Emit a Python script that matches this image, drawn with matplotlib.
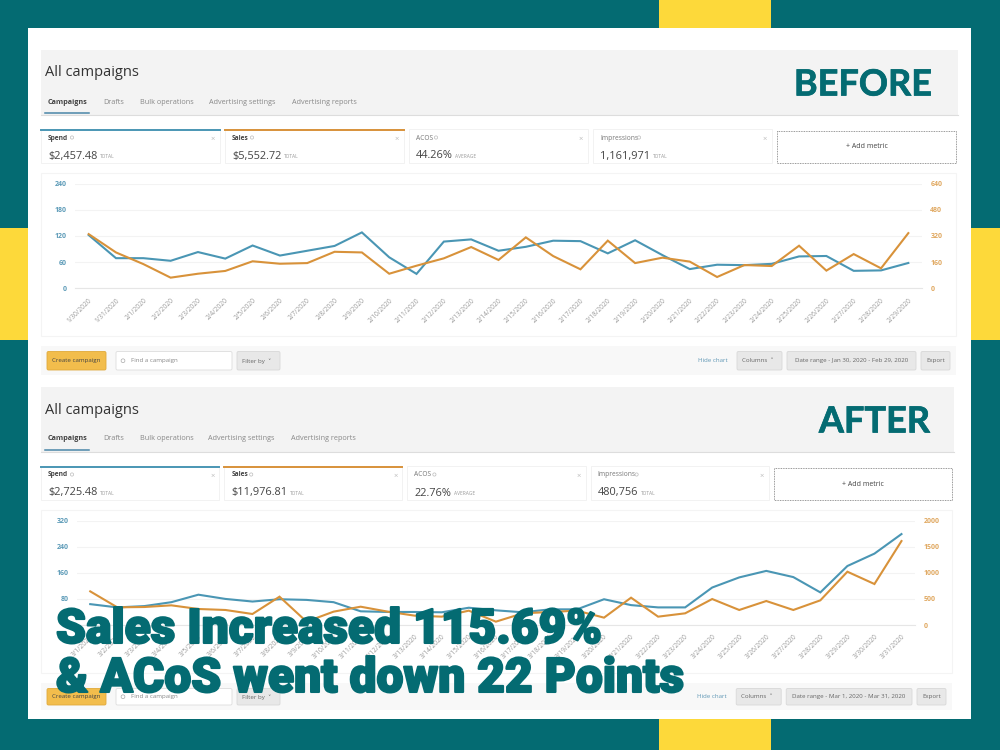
import numpy as np
import matplotlib
matplotlib.use("Agg")
import matplotlib.pyplot as plt
import matplotlib.patheffects as pe
from matplotlib.patches import Rectangle, FancyBboxPatch, Circle

TEAL = "#046b72"
YELLOW = "#fdd93a"
BLUE = "#4a96b4"
ORANGE = "#d8923a"

plt.rcParams["font.family"] = ["Open Sans", "DejaVu Sans"]

# before chart
before_dates = ["1/30/2020", "1/31/2020"] + [f"2/{d}/2020" for d in range(1, 30)]
before_spend = [122, 69, 69, 63, 83, 68, 98, 75, 86, 97, 128, 71, 33, 107, 112, 86,
                95, 109, 108, 80, 110, 76, 44, 54, 53, 56, 73, 74, 40, 41, 58]
before_sales = [331, 219, 148, 65, 89, 106, 165, 150, 154, 223, 219, 89, 138, 183, 252, 173,
                311, 197, 116, 291, 154, 187, 163, 69, 142, 136, 260, 108, 209, 122, 337]
before_left_ticks = [0, 60, 120, 180, 240]
before_right_ticks = [0, 160, 320, 480, 640]

# after chart
after_dates = [f"3/{d}/2020" for d in range(1, 32)]
after_spend = [64, 54, 58, 70, 93, 80, 72, 79, 77, 70, 42, 40, 40, 39, 53, 45,
               39, 48, 48, 79, 61, 54, 54, 115, 146, 166, 147, 100, 181, 219, 279]
after_sales = [645, 339, 345, 377, 307, 288, 211, 543, 64, 256, 351, 256, 179, 160, 275, 64,
               224, 249, 275, 141, 524, 160, 224, 498, 288, 460, 288, 473, 1022, 786, 1610]
after_left_ticks = [0, 80, 160, 240, 320]
after_right_ticks = [0, 500, 1000, 1500, 2000]

tabs = ["Campaigns", "Drafts", "Bulk operations", "Advertising settings", "Advertising reports"]
metric_names = ["Spend", "Sales", "ACOS", "Impressions"]
metric_units = ["TOTAL", "TOTAL", "AVERAGE", "TOTAL"]
before_metrics = ["$2,457.48", "$5,552.72", "44.26%", "1,161,971"]
after_metrics = ["$2,725.48", "$11,976.81", "22.76%", "480,756"]

fig = plt.figure(figsize=(10, 7.5), dpi=100, facecolor=TEAL)

# page frame and screenshot pieces are drawn in pixel coords
ui = fig.add_axes([0, 0, 1, 1], zorder=0)
ui.set_xlim(0, 1000)
ui.set_ylim(750, 0)
ui.axis("off")


def box(x0, y0, x1, y1, color, ec="none", lw=0, ls="-", ax=ui, z=1):
    ax.add_patch(Rectangle((x0, y0), x1 - x0, y1 - y0, fc=color, ec=ec, lw=lw, ls=ls, zorder=z))


def button(x0, y0, x1, y1, color, ec):
    ui.add_patch(FancyBboxPatch((x0, y0), x1 - x0, y1 - y0, boxstyle="round,pad=0,rounding_size=1.5",
                                fc=color, ec=ec, lw=0.6, zorder=2))


for x0, y0, x1, y1 in [(659, 0, 771, 28), (659, 719, 771, 750), (0, 228, 28, 340), (971, 228, 1000, 340)]:
    box(x0, y0, x1, y1, YELLOW, z=0)
box(28, 28, 971, 719, "white", z=0)


def draw_panel(top, right, metrics, tab_shift, date_label, tool_y, tool_h):
    box(41, top, right + 2, top + 65, "#f3f3f3")
    ui.plot([41, right + 2], [top + 65, top + 65], color="#dddddd", lw=0.8, zorder=2)
    ui.text(45, top + 23, "All campaigns", fontsize=10.5, color="#333333", va="center")

    tab_x = [48, 103, 140, 209 - tab_shift, 292 - tab_shift]
    for i, tab in enumerate(tabs):
        ui.text(tab_x[i], top + 52, tab, fontsize=5.2, va="center",
                color="#444444" if i == 0 else "#888888", fontweight="bold" if i == 0 else "normal")
    ui.plot([45, 89], [top + 63, top + 63], color="#4a86a8", lw=1.1, zorder=3)

    # metric cards
    card_top = top + 79
    card_w = (right - 41 - 4 * 5) / 5
    step = card_w + 5
    for i in range(4):
        x0 = 41 + i * step
        x1 = x0 + card_w
        box(x0, card_top, x1, card_top + 34, "white", ec="#f0f0f0", lw=0.6)
        if i < 2:
            ui.plot([x0, x1], [card_top + 0.5, card_top + 0.5], color=BLUE if i == 0 else ORANGE, lw=1.4, zorder=3)
        ui.text(x0 + 7, card_top + 9, metric_names[i], fontsize=4.8, va="center", color="#444444" if i < 2 else "#777777",
                fontweight="bold" if i < 2 else "normal")
        name_w = {0: 24, 1: 20, 2: 20, 3: 39}[i]
        ui.add_patch(Circle((x0 + 7 + name_w, card_top + 8.5), 1.6, fc="none", ec="#bbbbbb", lw=0.5, zorder=3))
        t = ui.text(x0 + 7, card_top + 27, metrics[i], fontsize=7.9, va="center", color="#444444")
        fig.canvas.draw()
        bb = t.get_window_extent()
        ui.text(bb.x1 + 2.5, card_top + 27.5, metric_units[i], fontsize=3.5, va="center", color="#999999")
        ui.text(x1 - 7, card_top + 10, "\u00d7", fontsize=5.5, va="center", ha="center", color="#bbbbbb")
    x0 = 41 + 4 * step
    box(x0, card_top + 2, right, card_top + 34, "white", ec="#777777", lw=0.6, ls=(0, (1, 1)))
    ui.text((x0 + right) / 2, card_top + 18, "+ Add metric", fontsize=5, ha="center", va="center", color="#444444")

    # chart card
    box(41, top + 123, right, top + 286, "white", ec="#f4f4f4", lw=0.8)

    # toolbar under the chart
    y0, y1 = tool_y, tool_y + tool_h
    box(41, y0, right, y1, "#f8f8f8")
    by0, by1 = y0 + 5.5, y1 - 5
    cy = (by0 + by1) / 2
    button(47, by0, 106, by1, "#f2bd4c", "#e0a93a")
    ui.text(76.5, cy, "Create campaign", fontsize=4.4, ha="center", va="center", color="#444444")
    button(116, by0, 232, by1, "white", "#dddddd")
    ui.add_patch(Circle((123, cy), 1.9, fc="none", ec="#aaaaaa", lw=0.5, zorder=3))
    ui.text(131, cy, "Find a campaign", fontsize=4.4, va="center", color="#888888")
    button(237, by0, 280, by1, "#e8e8e8", "#d8d8d8")
    ui.text(242, cy, "Filter by  \u02c5", fontsize=4.4, va="center", color="#666666")
    d = right - 956
    ui.text(698 + d * 0.3, cy, "Hide chart", fontsize=4.4, va="center", color="#5f97b5")
    button(737 + d * 0.2, by0, 782 + d * 0.2, by1, "#e8e8e8", "#d8d8d8")
    ui.text(742 + d * 0.2, cy, "Columns  \u02c5", fontsize=4.4, va="center", color="#666666")
    button(787 + d * 0.2, by0, 916 + d, by1, "#e8e8e8", "#d8d8d8")
    ui.text((787 + d * 0.2 + 916 + d) / 2, cy, date_label, fontsize=4.4, ha="center", va="center", color="#666666")
    button(921 + d, by0, 950 + d, by1, "#e8e8e8", "#d8d8d8")
    ui.text((921 + 950) / 2 + d, cy, "Export", fontsize=4.4, ha="center", va="center", color="#666666")


draw_panel(50, 956, before_metrics, 0, "Date range - Jan 30, 2020 - Feb 29, 2020", 346, 29)
draw_panel(387, 952, after_metrics, 1, "Date range - Mar 1, 2020 - Mar 31, 2020", 683, 27)


def draw_chart(x0, x1, y_top, y_bottom, dates, spend, sales, left_ticks, right_ticks):
    ax = fig.add_axes([x0 / 1000, 1 - y_bottom / 750, (x1 - x0) / 1000, (y_bottom - y_top) / 750], zorder=1)
    ax.patch.set_alpha(0)
    idx = np.arange(len(dates))
    ax.plot(idx, spend, color=BLUE, lw=1.5, solid_joinstyle="miter", zorder=3)
    ax.set_xlim(-0.5, len(dates) - 0.5)
    ax.set_ylim(left_ticks[0], left_ticks[-1])
    ax.set_yticks(left_ticks)
    ax.set_xticks(idx)
    ax.set_xticklabels(dates, rotation=45, ha="right", rotation_mode="anchor", fontsize=4.8, color="#999999")
    ax.tick_params(axis="x", length=0, pad=6)
    ax.tick_params(axis="y", length=0, pad=6, labelsize=5, labelcolor="#5d9bb8")
    ax.grid(axis="y", color="#f3f3f3", lw=0.8)
    ax.set_axisbelow(True)
    for name, spine in ax.spines.items():
        spine.set_visible(name == "bottom")
    ax.spines["bottom"].set_color("#e6e6e6")

    ax2 = ax.twinx()
    ax2.patch.set_alpha(0)
    ax2.plot(idx, sales, color=ORANGE, lw=1.5, solid_joinstyle="miter", zorder=4)
    ax2.set_ylim(right_ticks[0], right_ticks[-1])
    ax2.set_yticks(right_ticks)
    ax2.tick_params(axis="y", length=0, pad=6, labelsize=5, labelcolor="#e0a860")
    for spine in ax2.spines.values():
        spine.set_visible(False)
    for lab in ax.get_yticklabels() + ax2.get_yticklabels():
        lab.set_fontweight("bold")


draw_chart(75, 922, 183.5, 288.3, before_dates, before_spend, before_sales, before_left_ticks, before_right_ticks)
draw_chart(76.7, 915, 520.7, 625, after_dates, after_spend, after_sales, after_left_ticks, after_right_ticks)

# overlay captions go above the screenshot
top = fig.add_axes([0, 0, 1, 1], zorder=5)
top.set_xlim(0, 1000)
top.set_ylim(750, 0)
top.axis("off")
top.patch.set_alpha(0)

thick = [pe.Stroke(linewidth=0.5, foreground=TEAL), pe.Normal()]
top.text(932, 82, "BEFORE", fontsize=26, family="Lato", fontweight="bold", color=TEAL,
         ha="right", va="center_baseline", path_effects=thick)
top.text(930, 419, "AFTER", fontsize=26, family="Lato", fontweight="bold", color=TEAL,
         ha="right", va="center_baseline", path_effects=thick)

# headline sits over the after chart, same as in the original
heavy = [pe.Stroke(linewidth=1.5, foreground=TEAL), pe.Normal()]
top.text(56, 643, "Sales Increased 115.69%", fontsize=34.5, family="Roboto", fontweight="black",
         color=TEAL, va="baseline", path_effects=heavy)
top.text(56, 692, "& ACoS went down 22 Points", fontsize=34.5, family="Roboto", fontweight="black",
         color=TEAL, va="baseline", path_effects=heavy)

fig.savefig("out.png", dpi=100, facecolor=fig.get_facecolor())
